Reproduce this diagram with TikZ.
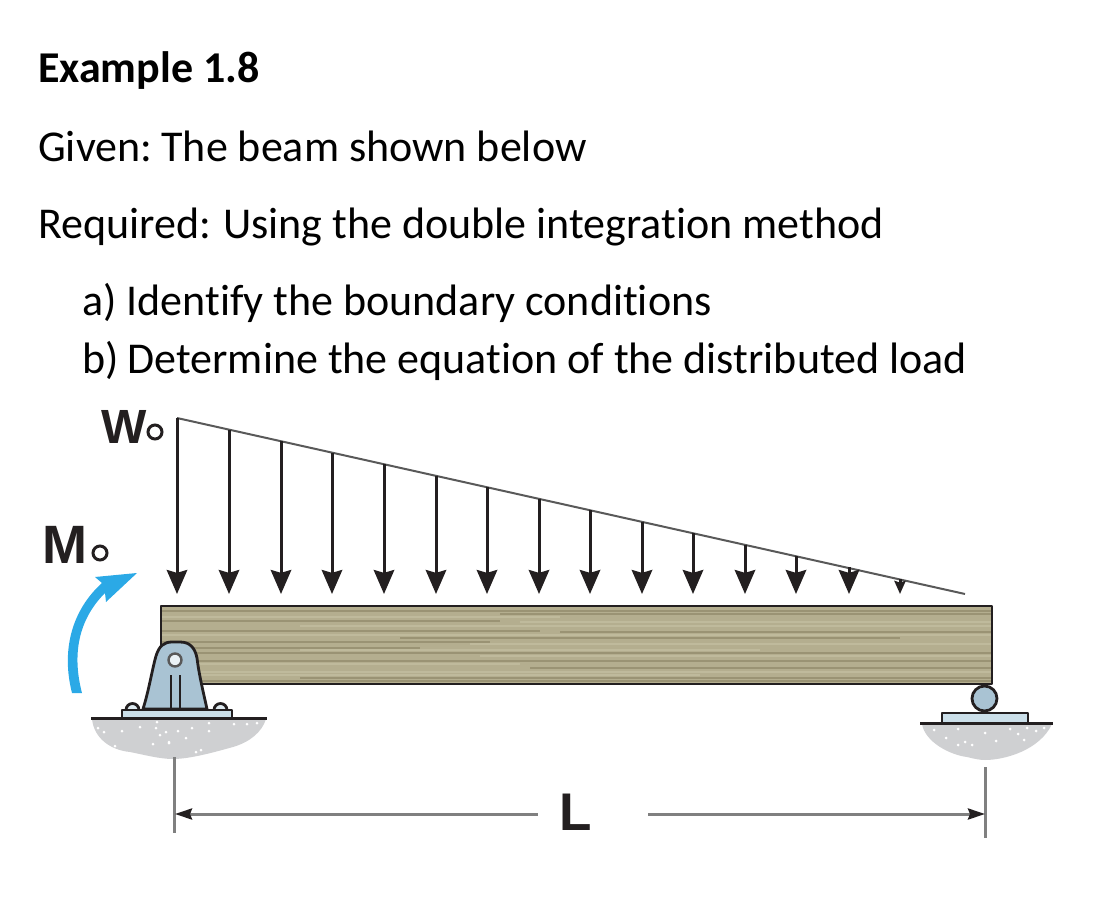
\documentclass[tikz,border=0pt]{standalone}
\usepackage{fontspec}
\setmainfont[Ligatures=NoCommon]{Carlito}
\newfontfamily\lab{Liberation Sans}
\usetikzlibrary{arrows.meta,calc}
\definecolor{woodA}{HTML}{B4AE8F}
\definecolor{woodB}{HTML}{9A9374}
\definecolor{woodC}{HTML}{BFBA9C}
\definecolor{steel}{HTML}{A9C3D3}
\definecolor{plate}{HTML}{CBDFE9}
\definecolor{soil}{HTML}{CFD0D2}
\definecolor{moment}{HTML}{2BA9E6}
\definecolor{ink}{HTML}{231F20}
\tikzset{
  txt/.style={anchor=base west,inner sep=0pt,font=\fontsize{44}{50}\selectfont,text=black},
  lbl/.style={inner sep=0pt,anchor=base west,text=ink},
  sub/.style={circle,draw=ink,line width=3pt,inner sep=0pt,minimum size=14pt},
  load/.style={draw=ink,line width=3pt,-{Stealth[length=#1,width=#1*0.85,inset=#1*0.12]}},
  load/.default=23pt,
  dim/.style={draw=black!50,line width=3pt},
  outl/.style={draw=ink,line width=2.8pt,line join=round},
}
\begin{document}
\begin{tikzpicture}[x=1pt,y=-1pt]
\useasboundingbox (0,0) rectangle (1106,910);
% text
\node[txt,font=\bfseries\fontsize{44}{50}\selectfont] (t1) at (38,82) {Example 1.8};
\node[txt] (t2) at (38,161) {Given:\kern-4pt{} The beam shown below};
\node[txt] (t3) at (38,238) {Required:\kern-1pt{} Using the double integration method};
\node[txt] (t4) at (82,315) {a) Identify the boundary conditions};
\node[txt] (t5) at (82,373) {b)\kern-1pt{} Determine the equation of the distributed load};
% ground
\fill[soil] (92,719) .. controls (94,738) and (110,750) .. (130,752) .. controls (145,755) and (160,759) .. (173,759) .. controls (190,759) and (215,752) .. (233,747) .. controls (250,742) and (262,732) .. (266,719) -- cycle;
\fill[soil] (922,724) .. controls (925,742) and (950,755) .. (967,757) .. controls (975,759) and (980,760) .. (985,760) .. controls (1005,760) and (1040,750) .. (1052,724) -- cycle;
\foreach \x/\y in {98/728,104/732,122/731,140/727,156/728,160/735,157/722,166/732,178/731,192/728,209/731,209/723,234/724,247/724,257/723,115/746,153/744,169/742,169/743,196/752,201/750,186/738,
   934/730,946/738,958/729,972/745,985/733,996/741,1010/729,1024/740,1036/731,1044/728,965/742,1018/734,958/745,1027/728}
  \fill[white] (\x,\y) circle (1.5pt);
% beam
\fill[woodA] (161,606) rectangle (992,684);
\foreach \y/\a/\b/\c/\w in {
  611/162/992/woodB/1.5, 614/500/992/woodB/1.5, 617/162/560/woodC/2, 621/162/500/woodB/1.5,
  622/520/992/woodC/2, 626/300/992/woodC/1.5, 631/162/540/woodB/1.5, 632/560/992/woodB/1.2,
  635/162/992/woodC/1.5, 638/400/900/woodB/1.5, 642/162/490/woodB/1.5, 644/470/992/woodC/1.5,
  648/162/420/woodB/1.2, 650/300/760/woodC/2, 653/162/992/woodB/1.5, 656/480/992/woodC/1.5,
  661/162/992/woodB/1.5, 664/162/520/woodC/2, 668/530/992/woodB/1.2, 672/162/992/woodC/2,
  675/162/700/woodC/1.5, 678/300/992/woodB/2, 681/162/992/woodB/1.5}
  \draw[\c,line width=\w pt] (\a,\y) -- (\b,\y);
\draw[outl] (161,606) rectangle (992,684);
% pin support
\draw[outl,fill=plate!60] (126,710) arc[start angle=180,end angle=0,radius=6.5pt];
\draw[outl,fill=plate!60] (214,710) arc[start angle=180,end angle=0,radius=6.5pt];
\draw[outl,fill=steel] (143,709) .. controls (149,690) and (152,670) .. (156,656)
   .. controls (159,646) and (164,642) .. (172,642) -- (180,642)
   .. controls (190,642) and (195,648) .. (197,658)
   .. controls (199,675) and (204,695) .. (207,709) -- cycle;
\node[circle,draw=black!65,line width=2.4pt,fill=plate!40,minimum size=13pt,inner sep=0pt] (pin) at (175,660) {};
\draw[ink,line width=2.4pt] (171,675) -- (171,709) (180,675) -- (180,709);
\draw[outl,fill=plate] (122,710) rectangle (232,718);
\draw[ink,line width=2.6pt] (91,718.5) -- (267,718.5);
% roller support
\draw[outl,fill=plate] (942,713) rectangle (1028,723);
\draw[ink,line width=2.6pt] (920,723.5) -- (1053,723.5);
\node[circle,draw=ink,line width=2.8pt,fill=steel,minimum size=25pt,inner sep=0pt] (roller) at (984.5,698.5) {};
% load
\coordinate (lA) at (177,418);
\coordinate (lB) at (965,594);
\draw[black!65,line width=2pt] (lA) -- (lB);
\foreach \i/\x/\t/\h in {a/177/418/24,b/229/430/24,c/281/441/24,d/332/453/24,e/384/464/24,f/436/476/24,g/487/487/24,h/539/499/24,i/590/510/24,j/642/522/24,k/693/533/24,l/745/545/24,m/796/556/24,n/849/567/24,o/900/579/13}{
  \coordinate (s\i) at (\x,\t);
  \coordinate (e\i) at (\x,594);
  \draw[load=\h pt] (s\i) -- (e\i);
}
% moment
\fill[moment] (72,693) .. controls (61,650) and (72,610) .. (102,583) -- (95,577) -- (137,573) -- (106,602) -- (105,593)
  .. controls (78,620) and (72,655) .. (82,693) -- cycle;
% labels
\node[lbl,font=\lab\bfseries\fontsize{48}{52}\selectfont] (W) at (101,443) {W};
\node[sub] (Wo) at (155,432) {};
\node[lbl,font=\lab\bfseries\fontsize{54}{58}\selectfont] (M) at (42,563) {M};
\node[sub] (Mo) at (100,553) {};
\node[lbl,font=\lab\bfseries\fontsize{53}{58}\selectfont] (L) at (559,830) {L};
% dimension
\coordinate (d1a) at (174,757); \coordinate (d1b) at (174,833);
\coordinate (d2a) at (985,767); \coordinate (d2b) at (985,838);
\draw[dim] (d1a) -- (d1b);
\draw[dim] (d2a) -- (d2b);
\coordinate (h1) at (175,814); \coordinate (h2) at (985,814);
\coordinate (h1e) at (538,814); \coordinate (h2s) at (648,814);
\draw[dim,{Stealth[length=17pt,width=11pt,inset=2pt,ink]}-] (h1) -- (h1e);
\draw[dim,-{Stealth[length=17pt,width=11pt,inset=2pt,ink]}] (h2s) -- (h2);
\end{tikzpicture}
\end{document}
